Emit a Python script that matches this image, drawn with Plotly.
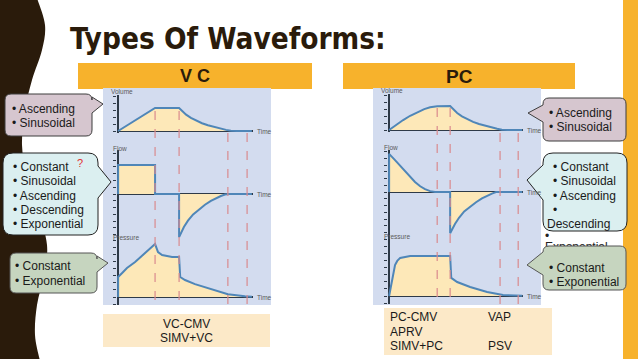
import plotly.graph_objects as go

W, H = 638, 359

# ---------------- data (time in s) ----------------
vc_vol_t = [0, 1.0, 1.65, 1.73, 1.84, 1.97, 2.11, 2.27, 2.43, 2.59, 2.76, 2.92, 3.05, 3.2, 3.62]
vc_vol_v = [0, 500, 500, 430, 355, 285, 225, 170, 125, 90, 55, 25, 8, 0, 0]

vc_flow_t = [0, 0, 1.0, 1.0, 1.65, 1.65, 1.78, 1.89, 2.03, 2.19, 2.35, 2.51, 2.65, 2.78, 2.89, 3.0, 3.62]
vc_flow_v = [0, 60, 60, 0, 0, -89, -68, -55, -42, -31, -22, -14, -8, -4, -1, 0, 0]

vc_pres_t = [0, 0, 0.11, 0.24, 0.46, 0.73, 1.0, 1.08, 1.19, 1.46, 1.65, 1.68, 1.81, 2.08, 2.54, 2.97, 3.43, 3.62]
vc_pres_v = [0, 11.3, 13.6, 16.4, 19.8, 24.9, 29.9, 25.4, 23.7, 22.6, 22.6, 11.3, 9.6, 7.3, 4.3, 1.6, 0.4, 0.2]

pc_vol_t = [0, 0.16, 0.38, 0.57, 0.76, 0.95, 1.11, 1.30, 1.65, 1.73, 1.84, 1.97, 2.11, 2.27, 2.43, 2.59, 2.76, 2.92, 3.05, 3.2, 3.6]
pc_vol_v = [0, 95, 217, 310, 391, 455, 495, 515, 520, 449, 371, 298, 235, 177, 131, 94, 57, 26, 8, 0, 0]

pc_flow_t = [0, 0, 0.16, 0.30, 0.43, 0.57, 0.70, 0.84, 0.97, 1.11, 1.24, 1.65, 1.65, 1.78, 1.89, 2.03, 2.19, 2.35, 2.51, 2.65, 2.78, 2.89, 3.6]
pc_flow_v = [0, 79, 66, 54, 43, 31, 21, 12, 6, 2, 0, 0, -85, -66, -53, -40, -30, -21, -13, -7, -3, 0, 0]

pc_pres_t = [0, 0.04, 0.08, 0.16, 0.22, 0.30, 0.57, 1.65, 1.68, 1.84, 2.19, 2.65, 3.08, 3.54, 3.6]
pc_pres_v = [0, 4.5, 9.0, 17.5, 19.8, 21.5, 22.6, 22.6, 10.2, 7.9, 5.1, 2.3, 0.6, 0.1, 0.1]

vc_marks = [1.0, 1.65, 2.97, 3.49]
pc_marks = [1.30, 1.65, 3.0, 3.49]

left_pink = ["• Ascending", "• Sinusoidal"]
left_cyan = ["• Constant", "• Sinusoidal", "• Ascending", "• Descending", "• Exponential"]
left_green = ["• Constant", "• Exponential"]
right_pink = ["• Ascending", "• Sinusoidal"]
right_cyan = ["• Constant", "• Sinusoidal", "• Ascending", "•", "Descending"]
right_green = ["• Constant", "• Exponential"]
vc_modes = ["VC-CMV", "SIMV+VC"]
pc_modes_left = ["PC-CMV", "APRV", "SIMV+PC"]
pc_modes_right = ["VAP", "", "PSV"]

# ---------------- style ----------------
BROWN = "#2a1b0b"
ORANGE = "#f7b22c"
PANEL = "#d3dcef"
FILL = "#fde8b8"
LINE = "#4f86b8"
AXIS = "#2e3a48"
DASH = "#d98a8e"
BODY = "Liberation Sans, Arial, sans-serif"

fig = go.Figure()

def px(x):
    return x / W

def py(y):
    return 1 - y / H

# base pixel axes
fig.update_layout(
    xaxis=dict(domain=[0, 1], range=[0, W], visible=False, fixedrange=True),
    yaxis=dict(domain=[0, 1], range=[H, 0], visible=False, fixedrange=True),
)

# subplots: (id, x-domain px, time range, y-domain px (top, bottom), value range, dtick)
subplots = [
    (2, (117, 253), [-0.03, 3.65], (95, 133), [-43, 783], 150, vc_vol_t, vc_vol_v),
    (3, (117, 253), [-0.03, 3.65], (150, 241), [-97, 91], 14, vc_flow_t, vc_flow_v),
    (4, (117, 253), [-0.03, 3.65], (240, 305), [-4.5, 32.2], 4, vc_pres_t, vc_pres_v),
    (5, (388, 523), [-0.03, 3.62], (94, 132), [-43, 783], 150, pc_vol_t, pc_vol_v),
    (6, (388, 523), [-0.03, 3.62], (150, 240), [-99, 87], 14, pc_flow_t, pc_flow_v),
    (7, (388, 523), [-0.03, 3.62], (240, 304), [-4.5, 31.6], 4, pc_pres_t, pc_pres_v),
]
for n, xd, xr, yd, yr, dt, tt, vv in subplots:
    fig.update_layout(**{
        f"xaxis{n}": dict(domain=[px(xd[0]), px(xd[1])], range=xr, anchor=f"y{n}",
                          showgrid=False, showticklabels=False, ticks="", showline=False,
                          zeroline=True, zerolinecolor=AXIS, zerolinewidth=1.5, fixedrange=True),
        f"yaxis{n}": dict(domain=[py(yd[1]), py(yd[0])], range=yr, anchor=f"x{n}",
                          showgrid=False, showticklabels=False, ticks="outside", ticklen=3,
                          tickcolor=AXIS, tickwidth=1, dtick=dt, showline=False,
                          zeroline=True, zerolinecolor=AXIS, zerolinewidth=1.5, fixedrange=True),
    })
    fig.add_trace(go.Scatter(x=tt, y=vv, mode="lines", fill="tozeroy", fillcolor=FILL,
                             line=dict(color=LINE, width=2), xaxis=f"x{n}", yaxis=f"y{n}",
                             hoverinfo="skip", showlegend=False))

shapes = []

# left wavy brown band
pts = [(37, -2), (45, 25), (42, 50), (32, 80), (25, 110), (22, 145), (27, 175), (38, 210),
       (47, 245), (44, 275), (37, 305), (35, 335), (40, 361)]
path = f"M0,-2 L{pts[0][0]},{pts[0][1]} "
for i in range(len(pts) - 1):
    p0 = pts[i - 1] if i > 0 else pts[i]
    p1, p2 = pts[i], pts[i + 1]
    p3 = pts[i + 2] if i + 2 < len(pts) else pts[i + 1]
    c1 = (p1[0] + (p2[0] - p0[0]) / 6, p1[1] + (p2[1] - p0[1]) / 6)
    c2 = (p2[0] - (p3[0] - p1[0]) / 6, p2[1] - (p3[1] - p1[1]) / 6)
    path += f"C{c1[0]:.1f},{c1[1]:.1f} {c2[0]:.1f},{c2[1]:.1f} {p2[0]},{p2[1]} "
path += "L0,361 Z"
shapes.append(dict(type="path", path=path, xref="x", yref="y", fillcolor=BROWN,
                   line=dict(width=0), layer="below"))

# right orange strip
shapes.append(dict(type="rect", x0=623, x1=W + 2, y0=-2, y1=H + 2, xref="x", yref="y",
                   fillcolor=ORANGE, line=dict(width=0), layer="below"))
# header bars
shapes.append(dict(type="rect", x0=78, x1=312, y0=63, y1=89, xref="x", yref="y",
                   fillcolor=ORANGE, line=dict(width=0), layer="below"))
shapes.append(dict(type="rect", x0=343, x1=575, y0=63, y1=89, xref="x", yref="y",
                   fillcolor=ORANGE, line=dict(width=0), layer="below"))
# chart panels
shapes.append(dict(type="rect", x0=103, x1=271, y0=88, y1=305, xref="x", yref="y",
                   fillcolor=PANEL, line=dict(width=0), layer="below"))
shapes.append(dict(type="rect", x0=373, x1=541, y0=88, y1=305, xref="x", yref="y",
                   fillcolor=PANEL, line=dict(width=0), layer="below"))
# bottom mode boxes
shapes.append(dict(type="rect", x0=103, x1=270, y0=314, y1=347, xref="x", yref="y",
                   fillcolor="#fce9c8", line=dict(width=0), layer="below"))
shapes.append(dict(type="rect", x0=384, x1=552, y0=308, y1=355, xref="x", yref="y",
                   fillcolor="#fce9c8", line=dict(width=0), layer="below"))

# dashed time markers
for k, t in enumerate(vc_marks):
    shapes.append(dict(type="line", xref="x2", yref="y", x0=t, x1=t, y0=111 if k < 2 else 133,
                       y1=305, line=dict(color=DASH, width=1.2, dash="dash"), layer="above"))
for k, t in enumerate(pc_marks):
    shapes.append(dict(type="line", xref="x5", yref="y", x0=t, x1=t, y0=108 if k < 2 else 133,
                       y1=305, line=dict(color=DASH, width=1.2, dash="dash"), layer="above"))


def callout(x0, y0, x1, y1, r, side, tip, b0, b1):
    p = f"M{x0 + r},{y0} L{x1 - r},{y0} Q{x1},{y0} {x1},{y0 + r} "
    if side == "right":
        p += f"L{x1},{b0} L{tip[0]},{tip[1]} L{x1},{b1} "
    p += f"L{x1},{y1 - r} Q{x1},{y1} {x1 - r},{y1} L{x0 + r},{y1} Q{x0},{y1} {x0},{y1 - r} "
    if side == "left":
        p += f"L{x0},{b1} L{tip[0]},{tip[1]} L{x0},{b0} "
    p += f"L{x0},{y0 + r} Q{x0},{y0} {x0 + r},{y0} Z"
    return p


PINK, CYAN, GREEN = "#d6c6cf", "#dbeff0", "#c6d5bf"
callouts = [
    (callout(5, 94, 92, 136, 6, "right", (103, 104), 97, 113), PINK, "#3d3d3d", "below"),
    (callout(3, 153, 98, 235, 10, "right", (111, 182), 166, 198), CYAN, "#222222", "below"),
    (callout(10, 253, 97, 293, 6, "right", (108, 263), 256, 272), GREEN, "#555555", "below"),
    (callout(543, 98, 626, 141, 6, "left", (528, 113), 105, 122), PINK, "#3d3d3d", "below"),
    (callout(543, 153, 627, 231, 10, "left", (527, 180), 165, 200), CYAN, "#222222", "below"),
    (callout(543, 246, 626, 290, 6, "left", (527, 265), 252, 275), GREEN, "#555555", "above"),
]
for p, fc, lc, layer in callouts:
    shapes.append(dict(type="path", path=p, xref="x", yref="y", fillcolor=fc,
                       line=dict(color=lc, width=1), layer=layer))

# overflowing text of the right cyan callout (hidden partly under the green callout)
fig.add_trace(go.Scatter(x=[545, 545], y=[237, 248], mode="text", text=["•", "Exponential"],
                         textposition="middle right", textfont=dict(family=BODY, size=12, color="#222"),
                         xaxis="x", yaxis="y", hoverinfo="skip", showlegend=False, cliponaxis=False))

ann = []


def txt(x, y, s, size=12, color="#1a1a1a", xanchor="left", family=BODY, bold=False):
    ann.append(dict(x=x, y=y, xref="x", yref="y", text=f"<b>{s}</b>" if bold else s,
                    showarrow=False, xanchor=xanchor, yanchor="middle",
                    font=dict(family=family, size=size, color=color)))


# title & headers
txt(68, 39, "Types Of Waveforms:", size=29.5, color=BROWN,
    family="DejaVu Sans Condensed, Liberation Sans Narrow, Arial Narrow, sans-serif", bold=True)
txt(195, 76, "V C", size=18, color=BROWN, xanchor="center", bold=True)
txt(459, 76, "PC", size=19, color=BROWN, xanchor="center", bold=True)

# callout texts
for i, s in enumerate(left_pink):
    txt(10, 109 + 14 * i, s)
for i, s in enumerate(left_cyan):
    txt(11, 167 + 14.3 * i, s)
txt(75, 163, "?", size=11, color="#e23232")
for i, s in enumerate(left_green):
    txt(13, 266 + 15 * i, s)
for i, s in enumerate(right_pink):
    txt(547, 113 + 14 * i, s)
for i, s in enumerate(right_cyan):
    txt(551 if i < 4 else 545, 167 + 14.3 * i, s)
for i, s in enumerate(right_green):
    txt(547, 268 + 14 * i, s)

# bottom boxes
for i, s in enumerate(vc_modes):
    txt(186, 324 + 13.5 * i, s, xanchor="center")
for i, s in enumerate(pc_modes_left):
    txt(388, 317 + 14.5 * i, s)
for i, s in enumerate(pc_modes_right):
    if s:
        txt(486, 317 + 14.5 * i, s)

# small axis labels
LBL = "#5a5a5a"
for x, y, s in [(109, 91, "Volume"), (111, 148, "Flow"), (111, 237, "Pressure"),
                (379, 90, "Volume"), (382, 147, "Flow"), (382, 236, "Pressure")]:
    txt(x, y, s, size=6.5, color=LBL)
for x, ys in [(255, (131, 194, 297)), (525, (130, 192, 296))]:
    for y in ys:
        txt(x, y, "Time", size=6.5, color=LBL)

fig.update_layout(
    width=W, height=H, autosize=False,
    margin=dict(l=0, r=0, t=0, b=0, pad=0),
    paper_bgcolor="white", plot_bgcolor="rgba(0,0,0,0)",
    shapes=shapes, annotations=ann, showlegend=False,
)

fig.write_html("out.html", config={"displayModeBar": False},
               post_script="document.body.style.margin='0';document.body.style.overflow='hidden';")
